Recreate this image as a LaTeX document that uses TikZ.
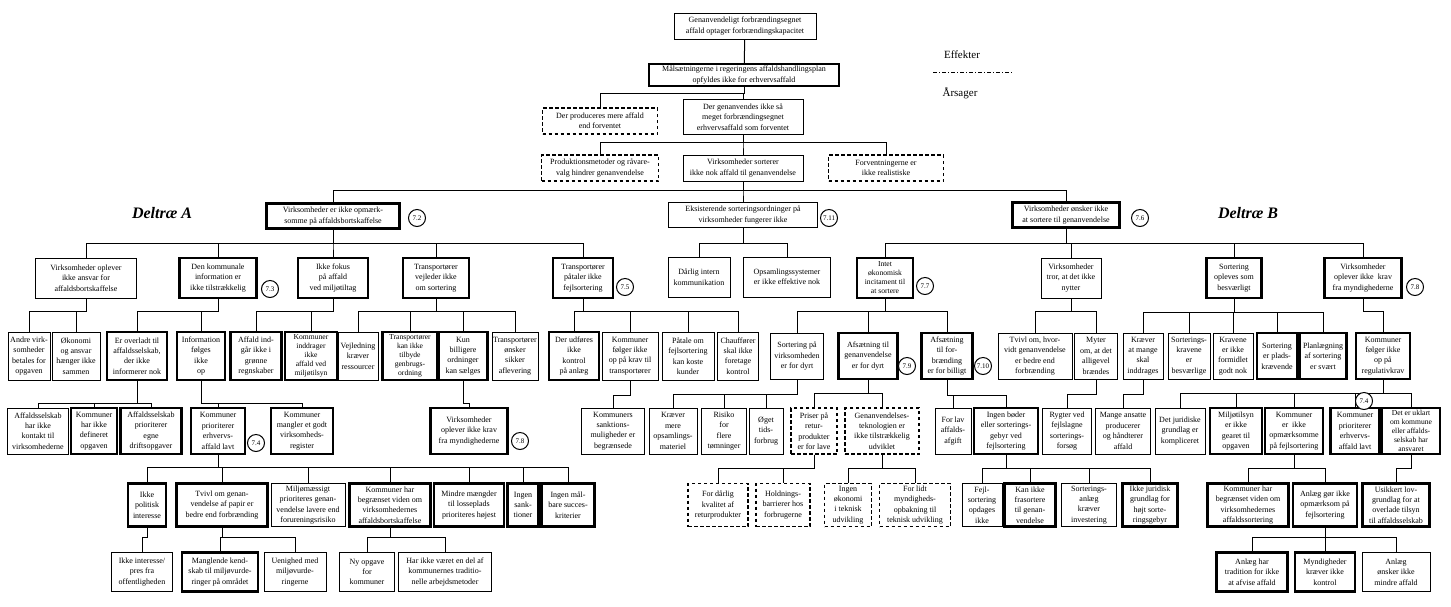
\documentclass[tikz,border=0pt]{standalone}
\usepackage{fontspec}
\setmainfont{Liberation Serif}
\begin{document}
\begin{tikzpicture}[x=1pt,y=-1pt,
 base/.style={draw,fill=white,align=center,inner sep=0.3pt,font=\fontsize{8}{10.4}\selectfont},
 tn/.style={base,line width=0.8pt},
 tk/.style={base,line width=2.2pt},
 ds/.style={base,line width=1.2pt,dash pattern=on 3.5pt off 2.5pt},
 w/.style={minimum width=#1pt}, h/.style={minimum height=#1pt},
 cir/.style={circle,draw,fill=white,line width=1pt,inner sep=0pt,minimum size=17pt,font=\fontsize{7}{7}\selectfont},
 conn/.style={line width=1pt},
 tight/.style={font=\fontsize{7.6}{9}\selectfont}]
\useasboundingbox (0,0) rectangle (1451,606);
\newcommand\conn[3]{\foreach \c in {#3}{\draw[conn] (#1.south) -- (#1.south |- 0,#2) -| (\c.north);}}
% legend
\node[font=\fontsize{11}{12}\selectfont] (eff) at (962,55) {Effekter};
\coordinate (l1) at (933,72); \coordinate (l2) at (1013,72);
\draw[line width=0.9pt,dash pattern=on 4pt off 2pt on 1pt off 2pt] (l1) -- (l2);
\node[font=\fontsize{11}{12}\selectfont] (aar) at (960,93) {Årsager};
\node[font=\bfseries\itshape\fontsize{16}{18}\selectfont] (dA) at (162,213) {Deltræ A};
\node[font=\bfseries\itshape\fontsize{16}{18}\selectfont] (dB) at (1248,213) {Deltræ B};
% top
\node[tn,w=142,h=26] (n1) at (745,26) {Genanvendeligt forbrændingsegnet\\affald optager forbrændingskapacitet};
\node[tk,w=190,h=22] (n2) at (744,75) {Målsætningerne i regeringens affaldshandlingsplan\\opfyldes ikke for erhvervsaffald};
\node[ds,w=115,h=26] (d1) at (600,121) {Der produceres mere affald\\end forventet};
\node[tn,w=120,h=35] (n3) at (743,117) {Der genanvendes ikke så\\meget forbrændingsegnet\\erhvervsaffald som forventet};
\node[ds,w=117,h=26] (d2) at (600,168) {Produktionsmetoder og råvare-\\valg hindrer genanvendelse};
\node[tn,w=120,h=26] (n4) at (743,168) {Virksomheder sorterer\\ikke nok affald til genanvendelse};
\node[ds,w=115,h=26] (d3) at (886,168) {Forventningerne er\\ikke realistiske};
\node[tk,w=133,h=25] (A) at (333,216) {Virksomheder er ikke opmærk-\\somme på affaldsbortskaffelse};
\node[tn,w=149,h=25] (E) at (743,215) {Eksisterende sorteringsordninger på\\virksomheder fungerer ikke};
\node[tk,w=107,h=25] (B) at (1066,215) {Virksomheder ønsker ikke\\at sortere til genanvendelse};
% level 2
\node[tn,w=101,h=40] (a1) at (86,278) {Virksomheder oplever\\ikke ansvar for\\affaldsbortskaffelse};
\node[tk,w=77,h=40] (a2) at (218,278) {Den kommunale\\information er\\ikke tilstrækkelig};
\node[tk,w=70,h=40] (a3) at (333,278) {Ikke fokus\\på affald\\ved miljøtiltag};
\node[tk,w=66,h=40] (a4) at (436,278) {Transportører\\vejleder ikke\\om sortering};
\node[tk,w=60,h=40] (a5) at (583,278) {Transportører\\påtaler ikke\\fejlsortering};
\node[tn,w=62,h=40] (e1) at (699,277) {Dårlig intern\\kommunikation};
\node[tn,w=87,h=40] (e2) at (787,277) {Opsamlingssystemer\\er ikke effektive nok};
\node[tk,tight,w=56,h=40] (b1) at (885,278) {Intet\\økonomisk\\incitament til\\at sortere};
\node[tn,w=60,h=40] (b2) at (1071,278) {Virksomheder\\tror, at det ikke\\nytter};
\node[tk,w=55,h=40] (b3) at (1234,278) {Sortering\\opleves som\\besværligt};
\node[tk,w=77,h=40] (b4) at (1363,278) {Virksomheder\\oplever ikke\ \ krav\\fra myndighederne};
% level 3
\node[tn,w=42,h=48] (c1) at (29,356) {Andre virk-\\somheder\\betales for\\opgaven};
\node[tn,w=48,h=48] (c2) at (76,356) {Økonomi\\og ansvar\\hænger ikke\\sammen};
\node[tk,w=60,h=48] (c3) at (137,356) {Er overladt til\\affaldsselskab,\\der ikke\\informerer nok};
\node[tk,w=48,h=48] (c4) at (201,356) {Information\\følges\\ikke\\op};
\node[tk,w=51,h=48] (c5) at (256,356) {Affald ind-\\går ikke i\\grønne\\regnskaber};
\node[tk,tight,w=52,h=48] (c6) at (311,356) {Kommuner\\inddrager\\ikke\\affald ved\\miljøtilsyn};
\node[tn,w=40,h=48] (c7) at (358,356) {Vejledning\\kræver\\ressourcer};
\node[tk,tight,w=55,h=48] (c8) at (410,356) {Transportører\\kan ikke\\tilbyde\\genbrugs-\\ordning};
\node[tk,w=49,h=48] (c9) at (463,356) {Kun\\billigere\\ordninger\\kan sælges};
\node[tn,w=46,h=48] (c10) at (515,356) {Transportører\\ønsker\\sikker\\aflevering};
\node[tk,w=50,h=48] (c11) at (574,356) {Der udføres\\ikke\\kontrol\\på anlæg};
\node[tn,w=56,h=48] (c12) at (630,356) {Kommuner\\følger ikke\\op på krav til\\transportører};
\node[tn,w=52,h=48] (c13) at (688,356) {Påtale om\\fejlsortering\\kan koste\\kunder};
\node[tn,w=41,h=48] (c14) at (738,356) {Chauffører\\skal ikke\\foretage\\kontrol};
\node[tn,w=53,h=46] (c15) at (797,356) {Sortering på\\virksomheden\\er for dyrt};
\node[tk,w=59,h=46] (c16) at (868,356) {Afsætning til\\genanvendelse\\er for dyrt};
\node[tk,w=51,h=46] (c17) at (947,356) {Afsætning\\til for-\\brænding\\er for billigt};
\node[tn,w=74,h=46] (c18) at (1035,356) {Tvivl om, hvor-\\vidt genanvendelse\\er bedre end\\forbrænding};
\node[tn,w=43,h=46] (c19) at (1096,356) {Myter\\om, at det\\alligevel\\brændes};
\node[tn,w=40,h=46] (c20) at (1143,356) {Kræver\\at mange\\skal\\inddrages};
\node[tn,w=42,h=46] (c21) at (1189,356) {Sorterings-\\kravene\\er\\besværlige};
\node[tn,w=40,h=46] (c22) at (1233,356) {Kravene\\er ikke\\formidlet\\godt nok};
\node[tk,w=40,h=46] (c23) at (1277,356) {Sortering\\er plads-\\krævende};
\node[tk,w=47,h=46] (c24) at (1323,356) {Planlægning\\af sortering\\er svært};
\node[tk,w=54,h=46] (c25) at (1383,356) {Kommuner\\følger ikke\\op på\\regulativkrav};
% level 4
\node[tn,w=61,h=46] (q1) at (38,431) {Affaldsselskab\\har ikke\\kontakt til\\virksomhederne};
\node[tk,w=46,h=46] (q2) at (94,431) {Kommuner\\har ikke\\defineret\\opgaven};
\node[tk,w=61,h=46] (q3) at (151,431) {Affaldsselskab\\prioriterer\\egne\\driftsopgaver};
\node[tk,w=54,h=46] (q4) at (218,431) {Kommuner\\prioriterer\\erhvervs-\\affald lavt};
\node[tk,w=62,h=46] (q5) at (302,431) {Kommuner\\mangler et godt\\virksomheds-\\register};
\node[tk,w=77,h=46] (q6) at (469,431) {Virksomheder\\oplever ikke krav\\fra myndighederne};
\node[tn,w=63,h=46] (q7) at (613,431) {Kommuners\\sanktions-\\muligheder er\\begrænsede};
\node[tn,w=48,h=46] (q8) at (673,431) {Kræver\\mere\\opsamlings-\\materiel};
\node[tn,w=45,h=46] (q9) at (724,431) {Risiko\\for\\flere\\tømninger};
\node[tn,w=34,h=46] (q10) at (766,431) {Øget\\tids-\\forbrug};
\node[ds,w=46,h=46] (q11) at (814,431) {Priser på\\retur-\\produkter\\er for lave};
\node[ds,w=74,h=46] (q12) at (882,431) {Genanvendelses-\\teknologien er\\ikke tilstrækkelig\\udviklet};
\node[tn,w=36,h=46] (q13) at (953,431) {For lav\\affalds-\\afgift};
\node[tk,w=64,h=46] (q14) at (1006,431) {Ingen bøder\\eller sorterings-\\gebyr ved\\fejlsortering};
\node[tn,w=49,h=46] (q15) at (1067,431) {Rygter ved\\fejlslagne\\sorterings-\\forsøg};
\node[tn,w=55,h=46] (q16) at (1123,431) {Mange ansatte\\producerer\\og håndterer\\affald};
\node[tn,w=50,h=46] (q17) at (1180,431) {Det juridiske\\grundlag er\\kompliceret};
\node[tk,w=52,h=46] (q18) at (1236,431) {Miljøtilsyn\\er ikke\\gearet til\\opgaven};
\node[tk,w=58,h=46] (q19) at (1294,431) {Kommuner\\er\ \ ikke\\opmærksomme\\på fejlsortering};
\node[tk,w=49,h=46] (q20) at (1355,431) {Kommuner\\prioriterer\\erhvervs-\\affald lavt};
\node[tk,tight,w=58,h=46] (q21) at (1411,431) {Det er uklart\\om kommune\\eller affalds-\\selskab har\\ansvaret};
% level 5
\node[tk,w=38,h=43] (f1) at (147,505) {Ikke\\politisk\\interesse};
\node[tk,w=91,h=43] (f2) at (222,505) {Tvivl om genan-\\vendelse af papir er\\bedre end forbrænding};
\node[tn,w=74,h=43] (f3) at (308,505) {Miljømæssigt\\prioriteres genan-\\vendelse lavere end\\forureningsrisiko};
\node[tk,w=81,h=43] (f4) at (390,505) {Kommuner har\\begrænset viden om\\virksomhedernes\\affaldsbortskaffelse};
\node[tk,w=70,h=43] (f5) at (469,505) {Mindre mængder\\til losseplads\\prioriteres højest};
\node[tk,w=31,h=43] (f6) at (523,505) {Ingen\\sank-\\tioner};
\node[tk,w=53,h=43] (f7) at (568,505) {Ingen mål-\\bare succes-\\kriterier};
\node[ds,w=60,h=43] (f8) at (718,505) {For dårlig\\kvalitet af\\returprodukter};
\node[ds,w=54,h=43] (f9) at (783,505) {Holdnings-\\barrierer hos\\forbrugerne};
\node[ds,w=47,h=43] (f10) at (848,505) {Ingen\\økonomi\\i teknisk\\udvikling};
\node[ds,w=71,h=43] (f11) at (915,505) {For lidt\\myndigheds-\\opbakning til\\teknisk udvikling};
\node[tn,w=40,h=43] (f12) at (982,505) {Fejl-\\sortering\\opdages\\ikke};
\node[tk,w=51,h=43] (f13) at (1030,505) {Kan ikke\\frasortere\\til genan-\\vendelse};
\node[tn,w=55,h=43] (f14) at (1089,505) {Sorterings-\\anlæg\\kræver\\investering};
\node[tk,w=55,h=43] (f15) at (1150,505) {Ikke juridisk\\grundlag for\\højt sorte-\\ringsgebyr};
\node[tk,w=81,h=43] (f16) at (1248,505) {Kommuner har\\begrænset viden om\\virksomhedernes\\affaldssortering};
\node[tk,w=64,h=43] (f17) at (1325,505) {Anlæg gør ikke\\opmærksom på\\fejlsortering};
\node[tk,w=67,h=43] (f18) at (1396,505) {Usikkert lov-\\grundlag for at\\overlade tilsyn\\til affaldsselskab};
% level 6
\node[tn,w=61,h=39] (g1) at (142,572) {Ikke interesse/\\pres fra\\offentligheden};
\node[tk,w=76,h=39] (g2) at (220,572) {Manglende kend-\\skab til miljøvurde-\\ringer på området};
\node[tn,w=62,h=39] (g3) at (295,572) {Uenighed med\\miljøvurde-\\ringerne};
\node[tn,w=55,h=39] (g4) at (367,572) {Ny opgave\\for\\kommuner};
\node[tn,w=93,h=39] (g5) at (445,572) {Har ikke været en del af\\kommunernes traditio-\\nelle arbejdsmetoder};
\node[tk,w=71,h=39] (g6) at (1252,572) {Anlæg har\\tradition for ikke\\at afvise affald};
\node[tk,w=60,h=39] (g7) at (1325,572) {Myndigheder\\kræver ikke\\kontrol};
\node[tn,w=68,h=39] (g8) at (1396,572) {Anlæg\\ønsker ikke\\mindre affald};
% connectors
\draw[conn] (n1) -- (n2);
\conn{n2}{93}{d1,n3}
\conn{n3}{142}{d2,n4,d3}
\conn{n4}{190}{A,E,B}
\conn{A}{243}{a1,a2,a3,a4,a5}
\conn{E}{243}{e1,e2}
\conn{B}{243}{b1,b2,b3,b4}
\conn{a1}{311}{c1,c2}
\conn{a2}{311}{c3,c4}
\conn{a3}{311}{c5,c6}
\conn{a4}{311}{c7,c8,c9,c10}
\conn{a5}{311}{c11,c12,c13,c14}
\conn{b1}{311}{c15,c16,c17}
\conn{b2}{311}{c18,c19}
\conn{b3}{312}{c20,c21,c22,c23,c24}
\conn{b4}{311}{c25}
\conn{c3}{403}{q1,q2,q3}
\conn{c4}{403}{q4,q5}
\conn{c9}{403}{q6}
\conn{c12}{395}{q7}
\conn{c15}{394}{q8,q9,q10}
\conn{c16}{393}{q11,q12}
\conn{c17}{395}{q13,q14}
\conn{c19}{394}{q15}
\conn{c20}{394}{q16}
\conn{c25}{393}{q17,q18,q19,q20,q21}
\conn{q4}{467}{f1,f2,f3,f4,f5,f6,f7}
\conn{q11}{468}{f8,f9}
\conn{q12}{468}{f10,f11}
\conn{q14}{468}{f12,f13,f14,f15}
\conn{q19}{468}{f16,f17}
\conn{q21}{468}{f18}
\conn{f1}{537}{g1}
\conn{f2}{537}{g2,g3}
\conn{f4}{537}{g4,g5}
\conn{f17}{537}{g6,g7,g8}
% circles
\node[cir] (k72) at (417,218) {7.2};
\node[cir] (k711) at (829,218) {7.11};
\node[cir] (k76) at (1140,218) {7.6};
\node[cir] (k73) at (270,289) {7.3};
\node[cir] (k75) at (625,287) {7.5};
\node[cir] (k77) at (925,286) {7.7};
\node[cir] (k79) at (907,366) {7.9};
\node[cir] (k710) at (983,366) {7.10};
\node[cir] (k78a) at (1415,287) {7.8};
\node[cir] (k74a) at (256,443) {7.4};
\node[cir] (k78b) at (520,441) {7.8};
\node[cir] (k74b) at (1364,401) {7.4};
\end{tikzpicture}
\end{document}
